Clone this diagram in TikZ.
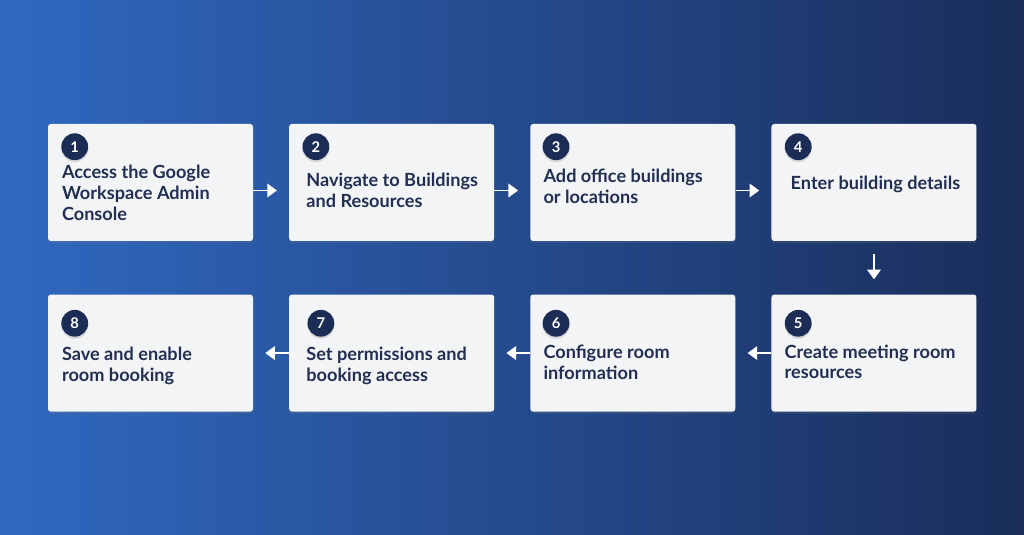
\documentclass[tikz,border=0pt]{standalone}
\usepackage{fontspec}
\setmainfont{Lato}
\usetikzlibrary{positioning,arrows.meta,shadows}

\definecolor{bgleft}{HTML}{3069C1}
\definecolor{bgmid}{HTML}{24519B}
\definecolor{bgright}{HTML}{1A2D5A}
\definecolor{boxfill}{HTML}{F3F4F6}
\definecolor{navy}{HTML}{1B2C55}
\definecolor{inktext}{HTML}{222F52}

\begin{document}
\begin{tikzpicture}[
            node distance=0.89cm,
            stepbox/.style={rectangle, rounded corners=2pt, fill=boxfill, minimum width=5.125cm, minimum height=2.925cm, drop shadow={opacity=0.2, shadow xshift=0pt, shadow yshift=-1.5pt}},
            badge/.style={circle, fill=navy, text=white, minimum size=0.67cm, inner sep=0pt, font=\fontsize{10.5}{10.5}\selectfont\bfseries, drop shadow={opacity=0.25, shadow xshift=0pt, shadow yshift=-1.5pt}},
            steptext/.style={anchor=west, align=left, text=inktext, inner sep=0pt, font=\fontsize{12.9}{14.9}\selectfont\bfseries},
            flow/.style={-{Triangle[width=0.34cm, length=0.24cm]}, white, line width=1.1pt}
        ]

        % Background
        \shade[left color=bgleft, middle color=bgmid, right color=bgright] (0,0) rectangle (25.6,13.375);
        \useasboundingbox (0,0) rectangle (25.6,13.375);

        % Top row of steps
        \node[stepbox] (b1) at (3.7625,8.8125) {};
        \node[stepbox, right=of b1] (b2) {};
        \node[stepbox, right=of b2] (b3) {};
        \node[stepbox, right=of b3] (b4) {};

        % Bottom row of steps, right to left
        \node[stepbox, below=1.325cm of b4] (b5) {};
        \node[stepbox, left=of b5] (b6) {};
        \node[stepbox, left=of b6] (b7) {};
        \node[stepbox, left=of b7] (b8) {};

        % Step numbers
        \node[badge] (n1) at ([xshift=0.675cm, yshift=-0.575cm]b1.north west) {1};
        \node[badge] (n2) at ([xshift=0.675cm, yshift=-0.575cm]b2.north west) {2};
        \node[badge] (n3) at ([xshift=0.65cm, yshift=-0.575cm]b3.north west) {3};
        \node[badge] (n4) at ([xshift=0.675cm, yshift=-0.575cm]b4.north west) {4};
        \node[badge] (n5) at ([xshift=0.675cm, yshift=-0.725cm]b5.north west) {5};
        \node[badge] (n6) at ([xshift=0.65cm, yshift=-0.725cm]b6.north west) {6};
        \node[badge] (n7) at ([xshift=0.8cm, yshift=-0.725cm]b7.north west) {7};
        \node[badge] (n8) at ([xshift=0.675cm, yshift=-0.725cm]b8.north west) {8};

        % Step texts
        \node[steptext] (t1) at ([xshift=0.35cm, yshift=-0.26cm]b1.west) {Access the Google\\Workspace Admin\\Console};
        \node[steptext] (t2) at ([xshift=0.43cm, yshift=-0.19cm]b2.west) {Navigate to Buildings\\and Resources};
        \node[steptext] (t3) at ([xshift=0.33cm, yshift=-0.09cm]b3.west) {Add office buildings\\or locations};
        \node[steptext] (t4) at ([xshift=0.48cm, yshift=-0.06cm]b4.west) {Enter building details};
        \node[steptext] (t5) at ([xshift=0.33cm, yshift=-0.22cm]b5.west) {Create meeting room\\resources};
        \node[steptext] (t6) at ([xshift=0.33cm, yshift=-0.22cm]b6.west) {Configure room\\information};
        \node[steptext] (t7) at ([xshift=0.43cm, yshift=-0.31cm]b7.west) {Set permissions and\\booking access};
        \node[steptext] (t8) at ([xshift=0.35cm, yshift=-0.31cm]b8.west) {Save and enable\\room booking};

        % Arrows between steps
        \draw[flow, shorten >=0.3cm] ([yshift=-0.2cm]b1.east) -- ([yshift=-0.2cm]b2.west);
        \draw[flow, shorten >=0.3cm] ([yshift=-0.2cm]b2.east) -- ([yshift=-0.2cm]b3.west);
        \draw[flow, shorten >=0.3cm] ([yshift=-0.2cm]b3.east) -- ([yshift=-0.2cm]b4.west);
        \draw[flow, shorten <=0.325cm, shorten >=0.375cm] (b4.south) -- (b5.north);
        \draw[flow, shorten >=0.3cm] (b5.west) -- (b6.east);
        \draw[flow, shorten >=0.3cm] (b6.west) -- (b7.east);
        \draw[flow, shorten >=0.3cm] (b7.west) -- (b8.east);

    \end{tikzpicture}
\end{document}
